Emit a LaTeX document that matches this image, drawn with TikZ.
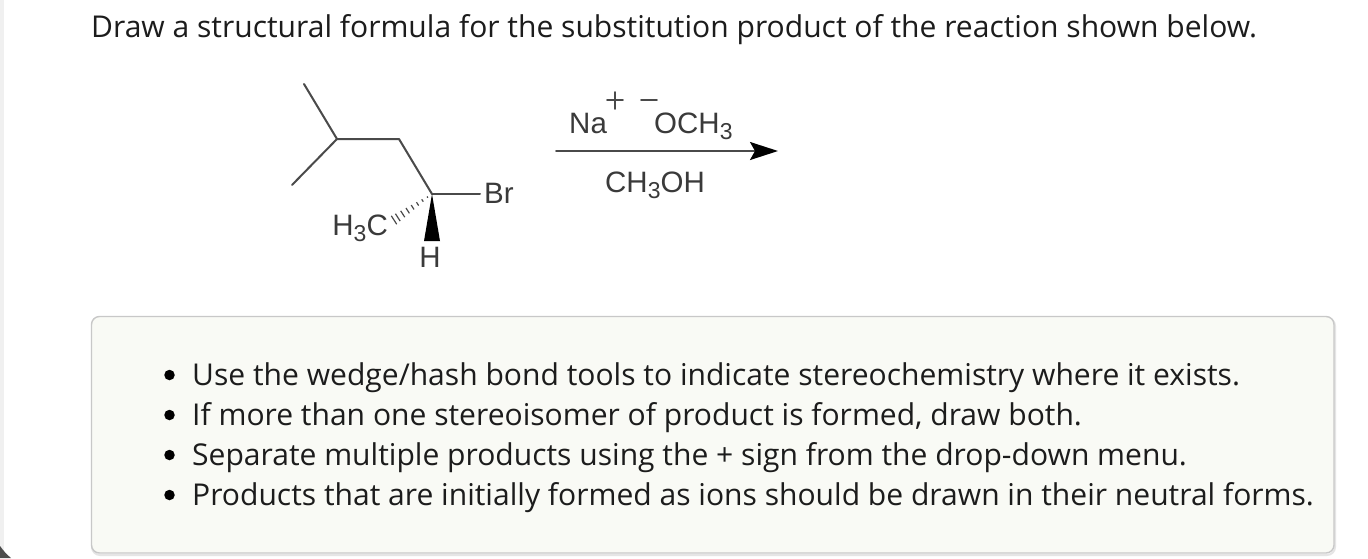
\documentclass[tikz,border=0pt]{standalone}
\usepackage{fontspec}
\setmainfont{Open Sans}
\newfontfamily\chem{Liberation Sans}
\usetikzlibrary{arrows.meta,calc}
\definecolor{panelfill}{HTML}{F9FAF5}
\definecolor{panelline}{HTML}{C8C8C8}
\definecolor{bondgrey}{HTML}{4A4A4A}
\definecolor{chemtext}{HTML}{3A3A3A}
\definecolor{inktext}{HTML}{1C1C1C}
\newcommand{\chemsub}[1]{\raisebox{-6pt}{\fontsize{23}{23}\selectfont #1}}
\tikzset{
  bond/.style={draw=bondgrey,line width=2pt,line cap=round},
  atom/.style={inner sep=0pt,font=\chem\fontsize{29.5}{30}\selectfont,text=chemtext},
  bodytext/.style={inner sep=0pt,anchor=base west,font=\fontsize{30.05}{31}\selectfont,text=inktext},
  bullet/.style={circle,fill=black,inner sep=0pt,minimum size=10.5pt}
}
\begin{document}
\begin{tikzpicture}[x=1pt,y=-1pt]
\useasboundingbox (0,0) rectangle (1368,558);
\fill[white] (0,0) rectangle (1368,558);
\fill[black!6] (0,0) rectangle (4,558);
\fill[black!70] (0,546) .. controls (3,550) and (6,554) .. (11,558) -- (0,558) -- cycle;
\node[bodytext] (title) at (91,37.5) {Draw a structural formula for the substitution product of the reaction shown below.};
% molecule
\coordinate (m1) at (304,84);
\coordinate (m2) at (337,139);
\coordinate (m3) at (292,185);
\coordinate (m4) at (399,139);
\coordinate (m5) at (432,194);
\node[atom,anchor=base west] (br) at (484,203) {Br};
\node[atom,anchor=base] (hyd) at (430,267) {H};
\node[atom,anchor=base east] (ch3) at (388,235) {H\chemsub{3}C};
\coordinate (brend) at (480,194);
\draw[bond,line join=round] (m1) -- (m2) -- (m4) -- (m5);
\draw[bond] (m3) -- (m2);
\draw[bond] (m5) -- (brend);
\fill[black] (m5) -- (440,241) -- (424,241) -- cycle;
\foreach \t/\w in {0.12/1.5,0.25/2.8,0.38/4.0,0.51/5.2,0.64/6.4,0.77/7.6,0.90/8.8,1.0/10.0}{
  \draw[bondgrey,line width=1.2pt] ($(m5)+(-38*\t-0.27*\w,26*\t-0.42*\w)$) -- ($(m5)+(-38*\t+0.27*\w,26*\t+0.42*\w)$);
}
% reagents
\node[atom,anchor=base west] (na) at (569,133) {Na};
\node[atom,anchor=base west] (och) at (654,133) {OCH\chemsub{3}};
\coordinate (plusc) at (615,100);
\coordinate (plusl) at (607,100);
\coordinate (plusr) at (623,100);
\coordinate (plust) at (615,92);
\coordinate (plusb) at (615,109);
\draw[bond,line width=1.6pt] (plusl) -- (plusr) (plust) -- (plusb);
\coordinate (minusl) at (641,100);
\coordinate (minusr) at (657,100);
\draw[bond,line width=1.6pt] (minusl) -- (minusr);
\node[atom,anchor=base] (meoh) at (655,192) {CH\chemsub{3}OH};
\coordinate (a1) at (556,151);
\coordinate (a2) at (778,151);
\draw[bond,-{Stealth[length=28pt,width=18pt,inset=5pt,fill=black,color=black]}] (a1) -- (a2);
% panel
\draw[draw=black!10,line width=2pt,rounded corners=8pt] (92,318) rectangle (1335,555);
\draw[draw=panelline,fill=panelfill,line width=1.4pt,rounded corners=8pt] (91.5,316.5) rectangle (1334,553);
\node[bullet] (b1) at (169.5,375) {};
\node[bullet] (b2) at (169.5,415) {};
\node[bullet] (b3) at (169.5,455) {};
\node[bullet] (b4) at (169.5,495) {};
\node[bodytext] (t1) at (192,385.5) {Use the wedge/hash bond tools to indicate stereochemistry where it exists.};
\node[bodytext] (t2) at (192,425.5) {If more than one stereoisomer of product is formed, draw both.};
\node[bodytext] (t3) at (192,465.5) {Separate multiple products using the + sign from the drop-down menu.};
\node[bodytext] (t4) at (192,505.5) {Products that are initially formed as ions should be drawn in their neutral forms.};
\end{tikzpicture}
\end{document}
